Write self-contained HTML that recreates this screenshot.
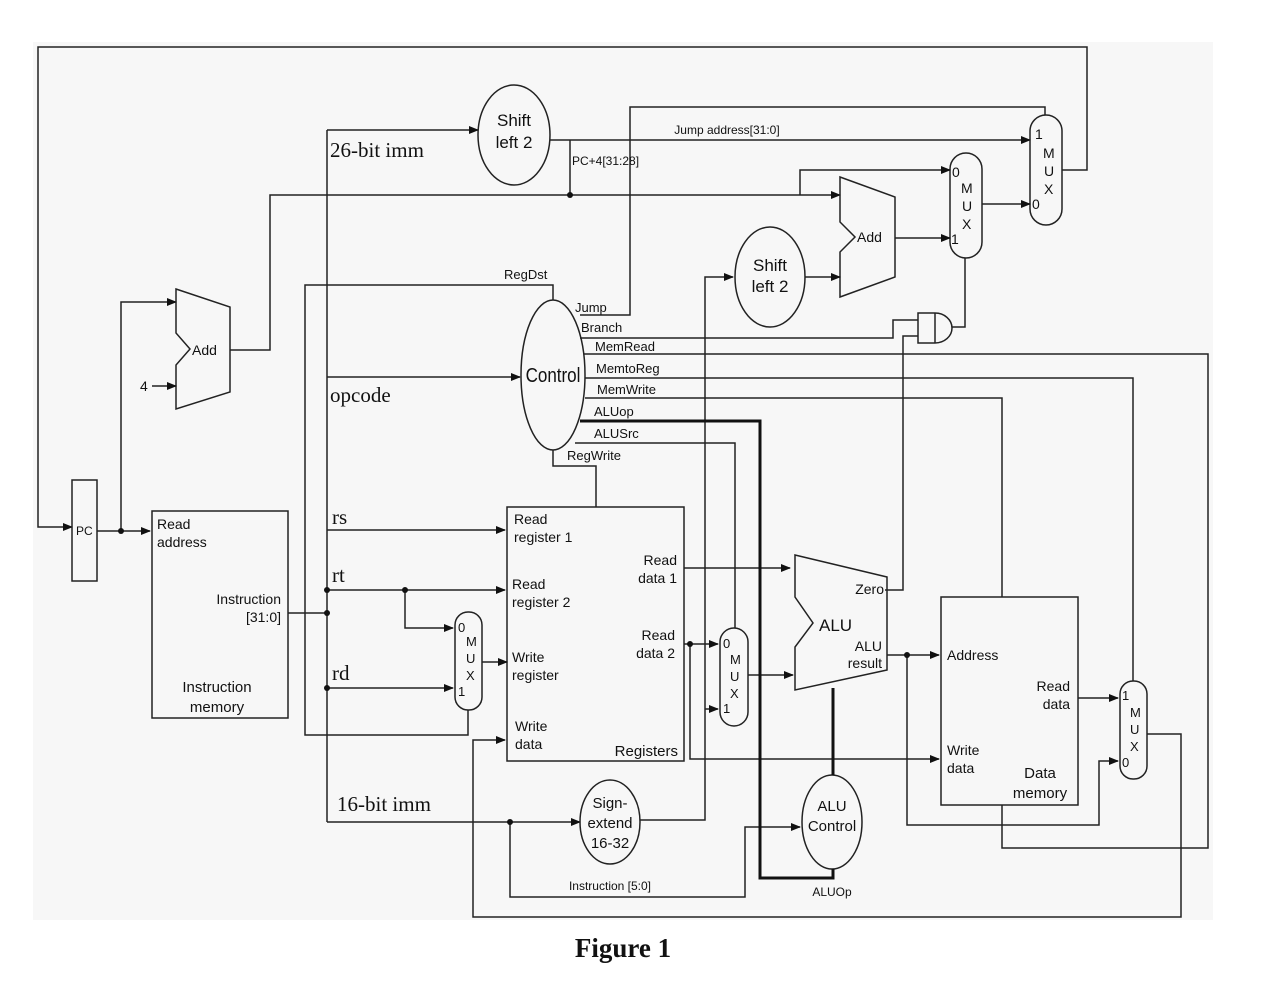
<!DOCTYPE html>
<html><head><meta charset="utf-8"><style>
body{margin:0;background:#fff;width:1266px;height:982px;overflow:hidden}
svg text{font-family:"Liberation Sans",sans-serif;fill:#111}
svg text.s{font-family:"Liberation Serif",serif}
</style></head><body>
<svg width="1266" height="982" viewBox="0 0 1266 982">
<defs><marker id="a" markerWidth="10" markerHeight="8" refX="9" refY="4" orient="auto" markerUnits="userSpaceOnUse"><path d="M0,0L10,4L0,8z" fill="#111"/></marker></defs>
<rect x="33" y="42" width="1180" height="878" fill="#f7f7f7"/>
<g fill="none" stroke="#222" stroke-width="1.5">
<polyline points="1062,170 1087,170 1087,47 38,47 38,527 72,527" marker-end="url(#a)"/>
<rect x="72" y="480" width="25" height="101"/>
<polyline points="97,531 150,531" marker-end="url(#a)"/>
<polyline points="121,531 121,302 176,302" marker-end="url(#a)"/>
<polygon points="176,289 230,307 230,392 176,409 176,365 190,349 176,333"/>
<polyline points="152,386 176,386" marker-end="url(#a)"/>
<polyline points="230,350 270,350 270,195 840,195" marker-end="url(#a)"/>
<rect x="152" y="511" width="136" height="207"/>
<polyline points="288,613 327,613"/>
<line x1="327" y1="130" x2="327" y2="822"/>
<polyline points="327,130 478,130" marker-end="url(#a)"/>
<polyline points="327,377 520,377" marker-end="url(#a)"/>
<polyline points="327,530 505,530" marker-end="url(#a)"/>
<polyline points="327,590 505,590" marker-end="url(#a)"/>
<polyline points="405,590 405,628 453,628" marker-end="url(#a)"/>
<polyline points="327,688 453,688" marker-end="url(#a)"/>
<polyline points="327,822 580,822" marker-end="url(#a)"/>
<polyline points="510,822 510,897 745,897 745,827 800,827" marker-end="url(#a)"/>
<ellipse cx="514" cy="135" rx="36" ry="50"/>
<polyline points="550,140 1030,140" marker-end="url(#a)"/>
<line x1="570" y1="140" x2="570" y2="195"/>
<polyline points="580,315 630,315 630,107 1045,107 1045,115"/>
<rect x="1030" y="115" width="32" height="110" rx="16"/>
<polyline points="982,204 1030,204" marker-end="url(#a)"/>
<rect x="950" y="153" width="32" height="105" rx="16"/>
<polyline points="800,195 800,170 950,170" marker-end="url(#a)"/>
<polyline points="895,238 950,238" marker-end="url(#a)"/>
<polyline points="965,258 965,327 952,327"/>
<polygon points="840,177 895,197 895,277 840,297 840,252 855,237 840,222"/>
<ellipse cx="770" cy="277" rx="35" ry="50"/>
<polyline points="640,820 705,820 705,277 733,277" marker-end="url(#a)"/>
<polyline points="805,277 840,277" marker-end="url(#a)"/>
<path d="M918,313 H935 A17,15 0 0 1 935,343 H918 Z"/>
<line x1="935" y1="313" x2="935" y2="343"/>
<ellipse cx="553" cy="375" rx="32" ry="75"/>
<polyline points="553,300 553,285 305,285 305,735 468,735 468,710"/>
<polyline points="580,338 893,338 893,320 918,320"/>
<polyline points="885,590 903,590 903,336 918,336"/>
<polyline points="584,354 1208,354 1208,848 1002,848 1002,805"/>
<polyline points="585,378 1133,378 1133,681"/>
<polyline points="585,398 1002,398 1002,597"/>
<polyline points="575,443 735,443 735,628"/>
<polyline points="553,450 553,466 596,466 596,507"/>
<rect x="507" y="507" width="177" height="254"/>
<rect x="455" y="612" width="27" height="98" rx="13"/>
<polyline points="482,662 507,662" marker-end="url(#a)"/>
<polyline points="684,568 790,568" marker-end="url(#a)"/>
<polyline points="684,644 718,644" marker-end="url(#a)"/>
<polyline points="690,644 690,759 939,759" marker-end="url(#a)"/>
<polyline points="705,709 718,709" marker-end="url(#a)"/>
<rect x="720" y="628" width="28" height="98" rx="14"/>
<polyline points="748,675 793,675" marker-end="url(#a)"/>
<polygon points="795,555 887,577 887,670 795,690 795,647 813,623 795,597"/>
<polyline points="887,655 939,655" marker-end="url(#a)"/>
<polyline points="907,655 907,825 1099,825 1099,761 1118,761" marker-end="url(#a)"/>
<rect x="941" y="597" width="137" height="208"/>
<polyline points="1078,698 1118,698" marker-end="url(#a)"/>
<rect x="1120" y="681" width="27" height="98" rx="13"/>
<polyline points="1147,734 1181,734 1181,917 473,917 473,740 505,740" marker-end="url(#a)"/>
<ellipse cx="610" cy="822" rx="30" ry="42"/>
<ellipse cx="832" cy="822" rx="30" ry="47"/>
</g>
<g fill="none" stroke="#111" stroke-width="3">
<polyline points="580,421 760,421 760,878 833,878 833,869"/>
<line x1="833" y1="688" x2="833" y2="775"/>
</g>
<g fill="#111">
<circle cx="121" cy="531" r="3"/><circle cx="327" cy="613" r="3"/><circle cx="327" cy="590" r="3"/>
<circle cx="405" cy="590" r="3"/><circle cx="327" cy="688" r="3"/><circle cx="510" cy="822" r="3"/>
<circle cx="570" cy="195" r="3"/><circle cx="690" cy="644" r="3"/><circle cx="907" cy="655" r="3"/>
</g>
<g font-size="14">
<text x="76" y="535" font-size="12">PC</text>
<text x="192" y="355">Add</text>
<text x="140" y="391">4</text>
<text x="157" y="529">Read</text><text x="157" y="547">address</text>
<text x="281" y="604" text-anchor="end">Instruction</text><text x="281" y="622" text-anchor="end">[31:0]</text>
<text x="217" y="692" text-anchor="middle" font-size="15">Instruction</text><text x="217" y="712" text-anchor="middle" font-size="15">memory</text>
<text class="s" x="330" y="157" font-size="21">26-bit imm</text>
<text class="s" x="330" y="402" font-size="21">opcode</text>
<text class="s" x="332" y="524" font-size="21">rs</text>
<text class="s" x="332" y="582" font-size="21">rt</text>
<text class="s" x="332" y="680" font-size="21">rd</text>
<text class="s" x="337" y="811" font-size="21">16-bit imm</text>
<text x="514" y="126" text-anchor="middle" font-size="17">Shift</text><text x="514" y="148" text-anchor="middle" font-size="17">left 2</text>
<text x="727" y="134" text-anchor="middle" font-size="12">Jump address[31:0]</text>
<text x="572" y="165" font-size="12">PC+4[31:28]</text>
<text x="1035" y="139">1</text><text x="1043" y="158">M</text><text x="1044" y="176">U</text><text x="1044" y="194">X</text><text x="1032" y="209">0</text>
<text x="952" y="177">0</text><text x="961" y="193">M</text><text x="962" y="211">U</text><text x="962" y="229">X</text><text x="951" y="244">1</text>
<text x="857" y="242">Add</text>
<text x="770" y="271" text-anchor="middle" font-size="17">Shift</text><text x="770" y="292" text-anchor="middle" font-size="17">left 2</text>
<text x="553" y="382" text-anchor="middle" font-size="20" transform="translate(553 0) scale(0.85 1) translate(-553 0)">Control</text>
<text x="504" y="279" font-size="13">RegDst</text>
<text x="575" y="312" font-size="13">Jump</text>
<text x="581" y="332" font-size="13">Branch</text>
<text x="595" y="351" font-size="13">MemRead</text>
<text x="596" y="373" font-size="13">MemtoReg</text>
<text x="597" y="394" font-size="13">MemWrite</text>
<text x="594" y="416" font-size="13">ALUop</text>
<text x="594" y="438" font-size="13">ALUSrc</text>
<text x="567" y="460" font-size="13">RegWrite</text>
<text x="514" y="524">Read</text><text x="514" y="542">register 1</text>
<text x="512" y="589">Read</text><text x="512" y="607">register 2</text>
<text x="512" y="662">Write</text><text x="512" y="680">register</text>
<text x="515" y="731">Write</text><text x="515" y="749">data</text>
<text x="677" y="565" text-anchor="end">Read</text><text x="677" y="583" text-anchor="end">data 1</text>
<text x="675" y="640" text-anchor="end">Read</text><text x="675" y="658" text-anchor="end">data 2</text>
<text x="678" y="756" text-anchor="end" font-size="15">Registers</text>
<text x="458" y="632" font-size="13">0</text><text x="466" y="646" font-size="13">M</text><text x="466" y="663" font-size="13">U</text><text x="466" y="680" font-size="13">X</text><text x="458" y="696" font-size="13">1</text>
<text x="723" y="648" font-size="13">0</text><text x="730" y="664" font-size="13">M</text><text x="730" y="681" font-size="13">U</text><text x="730" y="698" font-size="13">X</text><text x="723" y="713" font-size="13">1</text>
<text x="819" y="631" font-size="17">ALU</text>
<text x="884" y="594" text-anchor="end">Zero</text>
<text x="882" y="651" text-anchor="end">ALU</text><text x="882" y="668" text-anchor="end">result</text>
<text x="947" y="660">Address</text>
<text x="947" y="755">Write</text><text x="947" y="773">data</text>
<text x="1070" y="691" text-anchor="end">Read</text><text x="1070" y="709" text-anchor="end">data</text>
<text x="1040" y="778" text-anchor="middle" font-size="15">Data</text><text x="1040" y="798" text-anchor="middle" font-size="15">memory</text>
<text x="1122" y="700" font-size="13">1</text><text x="1130" y="717" font-size="13">M</text><text x="1130" y="734" font-size="13">U</text><text x="1130" y="751" font-size="13">X</text><text x="1122" y="767" font-size="13">0</text>
<text x="610" y="808" text-anchor="middle" font-size="15">Sign-</text><text x="610" y="828" text-anchor="middle" font-size="15">extend</text><text x="610" y="848" text-anchor="middle" font-size="15">16-32</text>
<text x="832" y="811" text-anchor="middle" font-size="15">ALU</text><text x="832" y="831" text-anchor="middle" font-size="15">Control</text>
<text x="610" y="890" text-anchor="middle" font-size="12">Instruction [5:0]</text>
<text x="832" y="896" text-anchor="middle" font-size="12">ALUOp</text>
<text x="623" y="957" text-anchor="middle" class="s" font-size="27" font-weight="bold">Figure 1</text>
</g>
</svg>
</body></html>
